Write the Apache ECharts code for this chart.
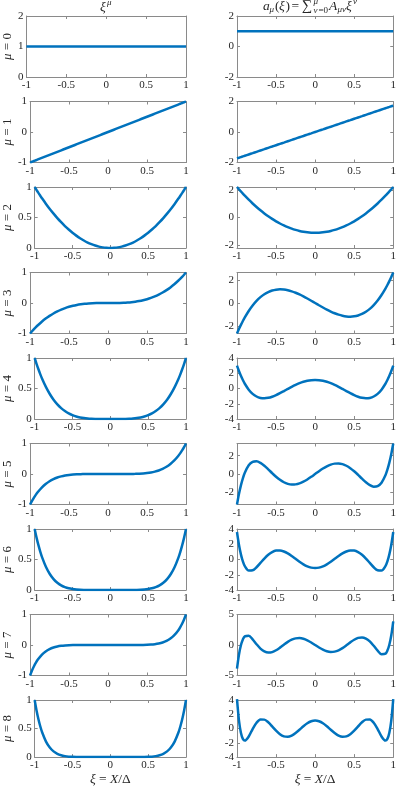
<!DOCTYPE html>
<html><head><meta charset="utf-8">
<script src="https://cdn.jsdelivr.net/npm/echarts@6/dist/echarts.min.js"></script>
<style>html,body{margin:0;padding:0;background:#fff}#c{width:399px;height:787px}</style>
</head><body><div id="c"></div>
<script>
// ---- data ----
const xi = [-1, -0.975, -0.95, -0.925, -0.9, -0.85, -0.8, -0.75, -0.7, -0.65, -0.6, -0.55, -0.5, -0.45, -0.4, -0.35, -0.3, -0.25, -0.2, -0.15, -0.1, -0.05, 0, 0.05, 0.1, 0.15, 0.2, 0.25, 0.3, 0.35, 0.4, 0.45, 0.5, 0.55, 0.6, 0.65, 0.7, 0.75, 0.8, 0.85, 0.9, 0.925, 0.95, 0.975, 1];

const xiPow0 = [1,1,1,1,1,1,1,1,1,1,1,1,1,1,1,1,1,1,1,1,1,1,1,1,1,1,1,1,1,1,1,1,1,1,1,1,1,1,1,1,1,1,1,1,1];
const xiPow1 = [-1, -0.975, -0.95, -0.925, -0.9, -0.85, -0.8, -0.75, -0.7, -0.65, -0.6, -0.55, -0.5, -0.45, -0.4, -0.35, -0.3, -0.25, -0.2, -0.15, -0.1, -0.05, 0, 0.05, 0.1, 0.15, 0.2, 0.25, 0.3, 0.35, 0.4, 0.45, 0.5, 0.55, 0.6, 0.65, 0.7, 0.75, 0.8, 0.85, 0.9, 0.925, 0.95, 0.975, 1];
const xiPow2 = [1, 0.951, 0.903, 0.856, 0.81, 0.723, 0.64, 0.563, 0.49, 0.423, 0.36, 0.303, 0.25, 0.203, 0.16, 0.123, 0.09, 0.063, 0.04, 0.023, 0.01, 0.003, 0, 0.003, 0.01, 0.023, 0.04, 0.063, 0.09, 0.123, 0.16, 0.203, 0.25, 0.303, 0.36, 0.423, 0.49, 0.563, 0.64, 0.723, 0.81, 0.856, 0.903, 0.951, 1];
const xiPow3 = [-1, -0.927, -0.857, -0.791, -0.729, -0.614, -0.512, -0.422, -0.343, -0.275, -0.216, -0.166, -0.125, -0.091, -0.064, -0.043, -0.027, -0.016, -0.008, -0.003, -0.001, 0, 0, 0, 0.001, 0.003, 0.008, 0.016, 0.027, 0.043, 0.064, 0.091, 0.125, 0.166, 0.216, 0.275, 0.343, 0.422, 0.512, 0.614, 0.729, 0.791, 0.857, 0.927, 1];
const xiPow4 = [1, 0.904, 0.815, 0.732, 0.656, 0.522, 0.41, 0.316, 0.24, 0.179, 0.13, 0.092, 0.063, 0.041, 0.026, 0.015, 0.008, 0.004, 0.002, 0.001, 0, 0, 0, 0, 0, 0.001, 0.002, 0.004, 0.008, 0.015, 0.026, 0.041, 0.063, 0.092, 0.13, 0.179, 0.24, 0.316, 0.41, 0.522, 0.656, 0.732, 0.815, 0.904, 1];
const xiPow5 = [-1, -0.881, -0.774, -0.677, -0.59, -0.444, -0.328, -0.237, -0.168, -0.116, -0.078, -0.05, -0.031, -0.018, -0.01, -0.005, -0.002, -0.001, 0, 0, 0, 0, 0, 0, 0, 0, 0, 0.001, 0.002, 0.005, 0.01, 0.018, 0.031, 0.05, 0.078, 0.116, 0.168, 0.237, 0.328, 0.444, 0.59, 0.677, 0.774, 0.881, 1];
const xiPow6 = [1, 0.859, 0.735, 0.626, 0.531, 0.377, 0.262, 0.178, 0.118, 0.075, 0.047, 0.028, 0.016, 0.008, 0.004, 0.002, 0.001, 0, 0, 0, 0, 0, 0, 0, 0, 0, 0, 0, 0.001, 0.002, 0.004, 0.008, 0.016, 0.028, 0.047, 0.075, 0.118, 0.178, 0.262, 0.377, 0.531, 0.626, 0.735, 0.859, 1];
const xiPow7 = [-1, -0.838, -0.698, -0.579, -0.478, -0.321, -0.21, -0.133, -0.082, -0.049, -0.028, -0.015, -0.008, -0.004, -0.002, -0.001, 0, 0, 0, 0, 0, 0, 0, 0, 0, 0, 0, 0, 0, 0.001, 0.002, 0.004, 0.008, 0.015, 0.028, 0.049, 0.082, 0.133, 0.21, 0.321, 0.478, 0.579, 0.698, 0.838, 1];
const xiPow8 = [1, 0.817, 0.663, 0.536, 0.43, 0.272, 0.168, 0.1, 0.058, 0.032, 0.017, 0.008, 0.004, 0.002, 0.001, 0, 0, 0, 0, 0, 0, 0, 0, 0, 0, 0, 0, 0, 0, 0, 0.001, 0.002, 0.004, 0.008, 0.017, 0.032, 0.058, 0.1, 0.168, 0.272, 0.43, 0.536, 0.663, 0.817, 1];

const a0 = [1,1,1,1,1,1,1,1,1,1,1,1,1,1,1,1,1,1,1,1,1,1,1,1,1,1,1,1,1,1,1,1,1,1,1,1,1,1,1,1,1,1,1,1,1];
const a1 = [-1.732, -1.689, -1.645, -1.602, -1.559, -1.472, -1.386, -1.299, -1.212, -1.126, -1.039, -0.953, -0.866, -0.779, -0.693, -0.606, -0.52, -0.433, -0.346, -0.26, -0.173, -0.087, 0, 0.087, 0.173, 0.26, 0.346, 0.433, 0.52, 0.606, 0.693, 0.779, 0.866, 0.953, 1.039, 1.126, 1.212, 1.299, 1.386, 1.472, 1.559, 1.602, 1.645, 1.689, 1.732];
const a2 = [2.236, 2.07, 1.909, 1.752, 1.599, 1.305, 1.029, 0.769, 0.525, 0.299, 0.089, -0.103, -0.28, -0.439, -0.581, -0.707, -0.816, -0.908, -0.984, -1.043, -1.085, -1.11, -1.118, -1.11, -1.085, -1.043, -0.984, -0.908, -0.816, -0.707, -0.581, -0.439, -0.28, -0.103, 0.089, 0.299, 0.525, 0.769, 1.029, 1.305, 1.599, 1.752, 1.909, 2.07, 2.236];
const a3 = [-2.646, -2.261, -1.901, -1.564, -1.25, -0.689, -0.212, 0.186, 0.509, 0.763, 0.952, 1.082, 1.158, 1.183, 1.164, 1.105, 1.012, 0.889, 0.741, 0.573, 0.39, 0.198, 0, -0.198, -0.39, -0.573, -0.741, -0.889, -1.012, -1.105, -1.164, -1.183, -1.158, -1.082, -0.952, -0.763, -0.509, -0.186, 0.212, 0.689, 1.25, 1.564, 1.901, 2.261, 2.646];
const a4 = [3, 2.291, 1.662, 1.108, 0.624, -0.152, -0.699, -1.05, -1.236, -1.285, -1.224, -1.077, -0.867, -0.615, -0.339, -0.056, 0.219, 0.473, 0.696, 0.879, 1.014, 1.097, 1.125, 1.097, 1.014, 0.879, 0.696, 0.473, 0.219, -0.056, -0.339, -0.615, -0.867, -1.077, -1.224, -1.285, -1.236, -1.05, -0.699, -0.152, 0.624, 1.108, 1.662, 2.291, 3];
const a5 = [-3.317, -2.178, -1.236, -0.471, 0.136, 0.947, 1.325, 1.381, 1.211, 0.897, 0.506, 0.094, -0.298, -0.636, -0.898, -1.07, -1.146, -1.127, -1.02, -0.837, -0.593, -0.307, 0, 0.307, 0.593, 0.837, 1.02, 1.127, 1.146, 1.07, 0.898, 0.636, 0.298, -0.094, -0.506, -0.897, -1.211, -1.381, -1.325, -0.947, -0.136, 0.471, 1.236, 2.178, 3.317];
const a6 = [3.606, 1.938, 0.676, -0.241, -0.87, -1.453, -1.413, -1.012, -0.452, 0.125, 0.621, 0.976, 1.166, 1.186, 1.055, 0.802, 0.466, 0.088, -0.291, -0.63, -0.897, -1.068, -1.127, -1.068, -0.897, -0.63, -0.291, 0.088, 0.466, 0.802, 1.055, 1.186, 1.166, 0.976, 0.621, 0.125, -0.452, -1.012, -1.413, -1.453, -0.87, -0.241, 0.676, 1.938, 3.606];
const a7 = [-3.873, -1.589, -0.044, 0.917, 1.425, 1.516, 0.928, 0.132, -0.582, -1.06, -1.249, -1.165, -0.864, -0.428, 0.057, 0.51, 0.868, 1.084, 1.137, 1.026, 0.773, 0.414, 0, -0.414, -0.773, -1.026, -1.137, -1.084, -0.868, -0.51, -0.057, 0.428, 0.864, 1.165, 1.249, 1.06, 0.582, -0.132, -0.928, -1.516, -1.425, -0.917, 0.044, 1.589, 3.873];
const a8 = [4.123, 1.153, -0.594, -1.451, -1.689, -1.117, -0.069, 0.815, 1.265, 1.25, 0.876, 0.302, -0.304, -0.802, -1.101, -1.159, -0.986, -0.629, -0.163, 0.323, 0.744, 1.027, 1.127, 1.027, 0.744, 0.323, -0.163, -0.629, -0.986, -1.159, -1.101, -0.802, -0.304, 0.302, 0.876, 1.25, 1.265, 0.815, -0.069, -1.117, -1.689, -1.451, -0.594, 1.153, 4.123];

const muValues = ['0', '1', '2', '3', '4', '5', '6', '7', '8'];
const xTicks = [-1, -0.5, 0, 0.5, 1];
const leftMin = [0, -1, 0, -1, 0, -1, 0, -1, 0];
const leftMax = [2, 1, 1, 1, 1, 1, 1, 1, 1];
const leftTicks = [[0, 1, 2], [-1, 0, 1], [0, 0.5, 1], [-1, 0, 1], [0, 0.5, 1], [-1, 0, 1], [0, 0.5, 1], [-1, 0, 1], [0, 0.5, 1]];
const rightMin = [-2, -2, -2.236, -2.646, -4, -3.317, -4, -5, -4];
const rightMax = [2, 2, 2.236, 2.646, 4, 3.317, 4, 5, 4];
const rightTicks = [[-2, 0, 2], [-2, 0, 2], [-2, 0, 2], [-2, 0, 2], [-4, -2, 0, 2, 4], [-2, 0, 2], [-4, -2, 0, 2, 4], [-5, 0, 5], [-4, -2, 0, 2, 4]];

// ---- layout / style ----
const leftCols = [xiPow0, xiPow1, xiPow2, xiPow3, xiPow4, xiPow5, xiPow6, xiPow7, xiPow8];
const rightCols = [a0, a1, a2, a3, a4, a5, a6, a7, a8];
const FONT = 'Liberation Serif';
const AX = '#8a8a8a';
const TXT = '#262626';
const BLUE = '#0072BD';
const GL = 26, GR = 237, GW = 160, GH = 61, TOP0 = 16, PITCH = 85.5;

const grid = [], xAxis = [], yAxis = [], series = [];
function addPanel(row, col, ys, ymin, ymax, yt) {
  const g = grid.length;
  grid.push({left: col === 0 ? GL : GR, top: TOP0 + PITCH * row, width: GW, height: GH, containLabel: false});
  const last = row === 8;
  const common = {
    type: 'value', gridIndex: g, min: -1, max: 1,
    axisLine: {show: true, onZero: false, lineStyle: {color: AX, width: 1}},
    axisTick: {show: true, inside: true, length: 3, customValues: xTicks, lineStyle: {color: AX, width: 1}},
    splitLine: {show: false}
  };
  xAxis.push(Object.assign({}, common, {
    position: 'bottom',
    axisLabel: {show: true, customValues: xTicks, margin: 3, fontFamily: FONT, fontSize: 11, color: TXT},
    name: last ? '{i|ξ} = {i|X}/Δ' : '',
    nameLocation: 'middle', nameGap: 13,
    nameTextStyle: {fontFamily: FONT, fontSize: 13.5, color: TXT, rich: {i: {fontFamily: FONT, fontStyle: 'italic', fontSize: 13.5, color: TXT}}}
  }));
  xAxis.push(Object.assign({}, common, {position: 'top', axisLabel: {show: false}}));
  const ycommon = {
    type: 'value', gridIndex: g, min: ymin, max: ymax,
    axisLine: {show: true, onZero: false, lineStyle: {color: AX, width: 1}},
    axisTick: {show: true, inside: true, length: 3, customValues: yt, lineStyle: {color: AX, width: 1}},
    splitLine: {show: false}
  };
  yAxis.push(Object.assign({}, ycommon, {
    position: 'left',
    axisLabel: {show: true, customValues: yt, margin: 3, fontFamily: FONT, fontSize: 11, color: TXT},
    name: col === 0 ? '{i|μ} = ' + muValues[row] : '',
    nameLocation: 'middle', nameGap: 11, nameRotate: 90,
    nameTextStyle: {fontFamily: FONT, fontSize: 13, color: TXT, rich: {i: {fontFamily: FONT, fontStyle: 'italic', fontSize: 13, color: TXT}}}
  }));
  yAxis.push(Object.assign({}, ycommon, {position: 'right', axisLabel: {show: false}}));
  series.push({
    type: 'line', xAxisIndex: 2 * g, yAxisIndex: 2 * g,
    data: xi.map((x, j) => [x, ys[j]]),
    showSymbol: false, smooth: 0.3, clip: true,
    lineStyle: {color: BLUE, width: 2.5}, itemStyle: {color: BLUE},
    silent: true, animation: false
  });
}
for (let r = 0; r < 9; r++) {
  addPanel(r, 0, leftCols[r], leftMin[r], leftMax[r], leftTicks[r]);
  addPanel(r, 1, rightCols[r], rightMin[r], rightMax[r], rightTicks[r]);
}

function t(text, x, y, size, italic, align) {
  return {type: 'text', x: x, y: y, silent: true, style: {
    text: text, fontFamily: FONT, fontSize: size, fontStyle: italic ? 'italic' : 'normal',
    fill: TXT, align: align || 'left', verticalAlign: 'middle'}};
}
const graphic = [
  // left title  ξ^μ
  t('ξ', 100, 7, 13.5, true),
  t('μ', 107, 3, 9, true),
  // right title  a_μ(ξ) = Σ_{ν=0}^{μ} A_{μν} ξ^ν
  t('a', 263, 6, 13.5, true),
  t('μ', 269.5, 10, 9, true),
  t('(', 275, 6, 13.5, false),
  t('ξ', 279, 6, 13.5, true),
  t(')', 285.5, 6, 13.5, false),
  t('=', 291.5, 6, 13.5, false),
  t('∑', 302, 6, 14.5, false),
  t('μ', 313.5, 1.5, 9, true),
  t('ν', 313.5, 11, 9, true),
  t('=0', 318.5, 11, 9, false),
  t('A', 329, 6, 13.5, true),
  t('μν', 337.5, 10, 9, true),
  t('ξ', 346, 6, 13.5, true),
  t('ν', 353, 2, 9, true)
];

const chart = echarts.init(document.getElementById('c'), null, {renderer: 'canvas'});
chart.setOption({animation: false, backgroundColor: '#fff', grid, xAxis, yAxis, series, graphic});
</script></body></html>
